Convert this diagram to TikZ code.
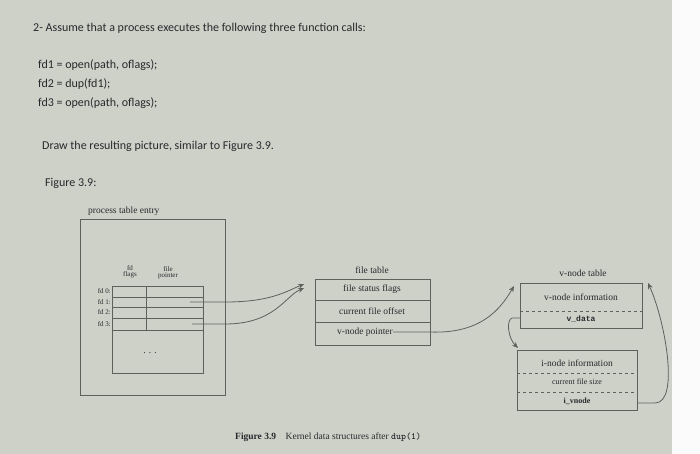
\documentclass[tikz,border=0pt]{standalone}
\usepackage{fontspec}
\setmainfont{Liberation Serif}
\newfontfamily\calfnt{Carlito}
\newfontfamily\monofnt{Liberation Mono}
\usetikzlibrary{arrows.meta}
\definecolor{bg}{RGB}{206,209,200}
\definecolor{ln}{RGB}{95,95,92}
\definecolor{tx}{RGB}{40,40,45}
\tikzset{
  q/.style={anchor=west,inner sep=0,text=tx,font=\calfnt\fontsize{12}{12}\selectfont},
  fs/.style={inner sep=0,text=tx,font=\fontsize{9.5}{9.5}\selectfont},
  tiny/.style={inner sep=0,text=tx,font=\fontsize{7}{6}\selectfont,align=center},
  bx/.style={draw=ln,line width=0.8pt},
  dl/.style={draw=ln,dashed,line width=0.6pt},
  ar/.style={draw=ln,line width=0.8pt,-{Stealth[length=6pt,width=5pt]}}
}
\begin{document}
\begin{tikzpicture}[x=1pt,y=-1pt]
\useasboundingbox (0,0) rectangle (700,454);
\fill[bg] (0,0) rectangle (672,454);
\fill[white!92!bg] (672,0) rectangle (700,454);
\node[q] (h) at (33,28) {2- Assume that a process executes the following three function calls:};
\node[q] (c1) at (38,65) {fd1 = open(path, oflags);};
\node[q] (c2) at (38,84) {fd2 = dup(fd1);};
\node[q] (c3) at (38,103) {fd3 = open(path, oflags);};
\node[q] (dr) at (42,146) {Draw the resulting picture, similar to Figure 3.9.};
\node[q] (fg) at (45,183) {Figure 3.9:};
% process table
\node[fs,anchor=west] (pte) at (88,211) {process table entry};
\draw[bx] (80,219) rectangle (225,395);
\draw[bx] (112,286) rectangle (203,373);
\foreach \y in {297,307,318,330} \draw[bx] (112,\y) -- (203,\y);
\draw[bx] (146,286) -- (146,330);
\node[tiny,anchor=east] (f0) at (111,291) {fd 0:};
\node[tiny,anchor=east] (f1) at (111,302) {fd 1:};
\node[tiny,anchor=east] (f2) at (111,312) {fd 2:};
\node[tiny,anchor=east] (f3) at (111,324) {fd 3:};
\node[tiny] (ffl) at (130,272) {fd\\flags};
\node[tiny] (ffp) at (168,273) {file\\pointer};
\node[fs] (dots) at (150,353) {. . .};
\coordinate (p1) at (190,302);
\coordinate (p3) at (192,324);
% file table
\node[fs] (ftl) at (372,270) {file table};
\draw[bx] (315,279) rectangle (430,345);
\draw[bx] (315,300) -- (430,300);
\draw[bx] (315,322) -- (430,322);
\node[fs] (fsf) at (372,289) {file status flags};
\node[fs] (cfo) at (372,311) {current file offset};
\node[fs] (vnp) at (365,332) {v-node pointer};
\coordinate (ft) at (304,284);
\coordinate (ft2) at (304,288);
\draw[ar] (p1) -- (225,302) .. controls (270,302) and (285,292) .. (ft);
\draw[ar] (p3) -- (225,324) .. controls (275,324) and (285,296) .. (ft2);
% v-node
\node[fs] (vtl) at (583,273) {v-node table};
\draw[bx] (520,283) rectangle (642,328);
\draw[dl] (520,311) -- (642,311);
\node[fs] (vni) at (581,297) {v-node information};
\node[fs,font=\monofnt\bfseries\fontsize{8}{8}\selectfont] (vd) at (581,319) {v\_data};
\coordinate (vt) at (514,286);
\draw[ar] (vnp.east) -- (430,332) .. controls (480,334) and (500,310) .. (vt);
% i-node
\draw[bx] (517,350) rectangle (637,410);
\draw[dl] (517,373) -- (637,373);
\draw[dl] (517,392) -- (637,392);
\node[fs] (ini) at (577,363) {i-node information};
\node[fs,font=\fontsize{8}{8}\selectfont] (cfs) at (577,382) {current file size};
\node[fs,font=\bfseries\fontsize{8}{8}\selectfont] (iv) at (577,401) {i\_vnode};
\coordinate (vl) at (520,318);
\coordinate (it) at (518,348);
\draw[ar] (vl) -- (512,318) .. controls (506,320) and (508,338) .. (it);
\coordinate (ir) at (637,403);
\coordinate (vtr) at (648,283);
\draw[ar] (ir) -- (655,403) .. controls (680,403) and (665,320) .. (vtr);
\node[fs,anchor=west] (cap) at (235,437) {\textbf{Figure 3.9}\quad Kernel data structures after \texttt{\bfseries dup(1)}};
\end{tikzpicture}
\end{document}
